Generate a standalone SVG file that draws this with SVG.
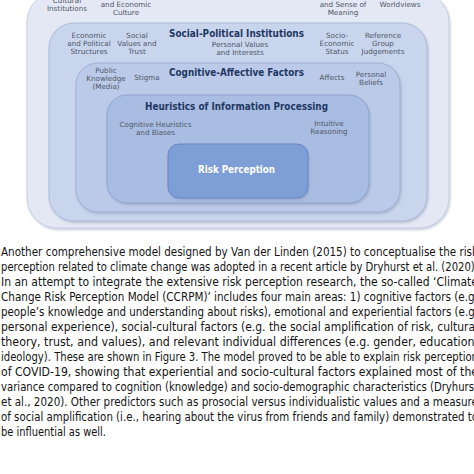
<svg xmlns="http://www.w3.org/2000/svg" width="474" height="474" viewBox="0 0 474 474">
<defs>
<filter id="sh" x="-5%" y="-5%" width="110%" height="115%">
<feDropShadow dx="1" dy="1.5" stdDeviation="1" flood-color="#7f8cab" flood-opacity="0.45"/>
</filter>
<style>
.box{filter:url(#sh);stroke-width:1}
.lbl{font-family:"DejaVu Sans",Verdana,sans-serif;font-size:7.2px;fill:#4f5767;text-anchor:middle}
.ttl{font-family:"DejaVu Sans",Verdana,sans-serif;font-size:10px;font-weight:bold;fill:#1f3763}
.rp{font-family:"DejaVu Sans",Verdana,sans-serif;font-size:10.5px;font-weight:bold;fill:#ffffff}
.body{font-family:"DejaVu Sans",Verdana,sans-serif;font-size:11.5px;fill:#141414}
</style>
</defs>
<rect width="474" height="474" fill="#ffffff"/>
<g id="outer">
<rect class="box" x="27" y="-8" width="422" height="236" rx="30" fill="#e3e8f4" stroke="#c9d0e2"/>
<text class="lbl" x="67"><tspan x="67" y="2.6">Cultural</tspan><tspan x="67" y="11">Institutions</tspan></text>
<text class="lbl" x="126"><tspan x="126" y="6.6">and Economic</tspan><tspan x="126" y="15">Culture</tspan></text>
<text class="lbl" x="343"><tspan x="343" y="6.6">and Sense of</tspan><tspan x="343" y="15">Meaning</tspan></text>
<text class="lbl" x="400" y="6.6">Worldviews</text>
</g>
<g id="social-political">
<rect class="box" x="49" y="23" width="378" height="198" rx="25" fill="#c9d5ed" stroke="#aebbd9"/>
<text class="lbl" x="89"><tspan x="89" y="37.6">Economic</tspan><tspan x="89" y="46">and Political</tspan><tspan x="89" y="54.4">Structures</tspan></text>
<text class="lbl" x="137"><tspan x="137" y="37.6">Social</tspan><tspan x="137" y="46">Values and</tspan><tspan x="137" y="54.4">Trust</tspan></text>
<text class="ttl" x="169" y="37.3" textLength="135" lengthAdjust="spacingAndGlyphs">Social-Political Institutions</text>
<text class="lbl" x="240"><tspan x="240" y="46.6">Personal Values</tspan><tspan x="240" y="55">and Interests</tspan></text>
<text class="lbl" x="337"><tspan x="337" y="37.6">Socio-</tspan><tspan x="337" y="46">Economic</tspan><tspan x="337" y="54.4">Status</tspan></text>
<text class="lbl" x="383"><tspan x="383" y="37.6">Reference</tspan><tspan x="383" y="46">Group</tspan><tspan x="383" y="54.4">Judgements</tspan></text>
</g>
<g id="cognitive-affective">
<rect class="box" x="76" y="63" width="324" height="149" rx="22" fill="#bbcae8" stroke="#9fb0d4"/>
<text class="lbl" x="106"><tspan x="106" y="72.6">Public</tspan><tspan x="106" y="80.8">Knowledge</tspan><tspan x="106" y="89">(Media)</tspan></text>
<text class="lbl" x="147" y="80.4">Stigma</text>
<text class="ttl" x="169" y="76" textLength="135" lengthAdjust="spacingAndGlyphs">Cognitive-Affective Factors</text>
<text class="lbl" x="332" y="79.8">Affects</text>
<text class="lbl" x="371"><tspan x="371" y="76.6">Personal</tspan><tspan x="371" y="84.8">Beliefs</tspan></text>
</g>
<g id="heuristics">
<rect class="box" x="107" y="95" width="262" height="108" rx="20" fill="#a9bde2" stroke="#8ea3cf"/>
<text class="ttl" x="145" y="109.5" textLength="183" lengthAdjust="spacingAndGlyphs">Heuristics of Information Processing</text>
<text class="lbl" x="155.5"><tspan x="155.5" y="126.6">Cognitive Heuristics</tspan><tspan x="155.5" y="135">and Biases</tspan></text>
<text class="lbl" x="329"><tspan x="329" y="126">Intuitive</tspan><tspan x="329" y="134.4">Reasoning</tspan></text>
</g>
<g id="risk-perception">
<rect class="box" x="168" y="144" width="140" height="54" rx="11" fill="#7e9ed6" stroke="#6786c4"/>
<text class="rp" x="198" y="172.5" textLength="77" lengthAdjust="spacingAndGlyphs">Risk Perception</text>
</g>
<g id="connectors"></g>
<g id="paragraph" class="body">
<text x="1" y="255.5" textLength="477" lengthAdjust="spacingAndGlyphs">Another comprehensive model designed by Van der Linden (2015) to conceptualise the risk</text>
<text x="1" y="270.5" textLength="477" lengthAdjust="spacingAndGlyphs">perception related to climate change was adopted in a recent article by Dryhurst et al. (2020).</text>
<text x="1" y="285.5" textLength="477" lengthAdjust="spacingAndGlyphs">In an attempt to integrate the extensive risk perception research, the so-called ‘Climate</text>
<text x="1" y="300.5" textLength="477" lengthAdjust="spacingAndGlyphs">Change Risk Perception Model (CCRPM)’ includes four main areas: 1) cognitive factors (e.g.</text>
<text x="1" y="315.5" textLength="477" lengthAdjust="spacingAndGlyphs">people’s knowledge and understanding about risks), emotional and experiential factors (e.g.</text>
<text x="1" y="330.5" textLength="477" lengthAdjust="spacingAndGlyphs">personal experience), social-cultural factors (e.g. the social amplification of risk, cultural</text>
<text x="1" y="345.5" textLength="477" lengthAdjust="spacingAndGlyphs">theory, trust, and values), and relevant individual differences (e.g. gender, education,</text>
<text x="1" y="360.5" textLength="477" lengthAdjust="spacingAndGlyphs">ideology). These are shown in Figure 3. The model proved to be able to explain risk perception</text>
<text x="1" y="375.5" textLength="477" lengthAdjust="spacingAndGlyphs">of COVID-19, showing that experiential and socio-cultural factors explained most of the</text>
<text x="1" y="390.5" textLength="477" lengthAdjust="spacingAndGlyphs">variance compared to cognition (knowledge) and socio-demographic characteristics (Dryhurst</text>
<text x="1" y="405.5" textLength="477" lengthAdjust="spacingAndGlyphs">et al., 2020). Other predictors such as prosocial versus individualistic values and a measure</text>
<text x="1" y="420.5" textLength="477" lengthAdjust="spacingAndGlyphs">of social amplification (i.e., hearing about the virus from friends and family) demonstrated to</text>
<text x="1" y="435.5" textLength="105" lengthAdjust="spacingAndGlyphs">be influential as well.</text>
</g>
</svg>
